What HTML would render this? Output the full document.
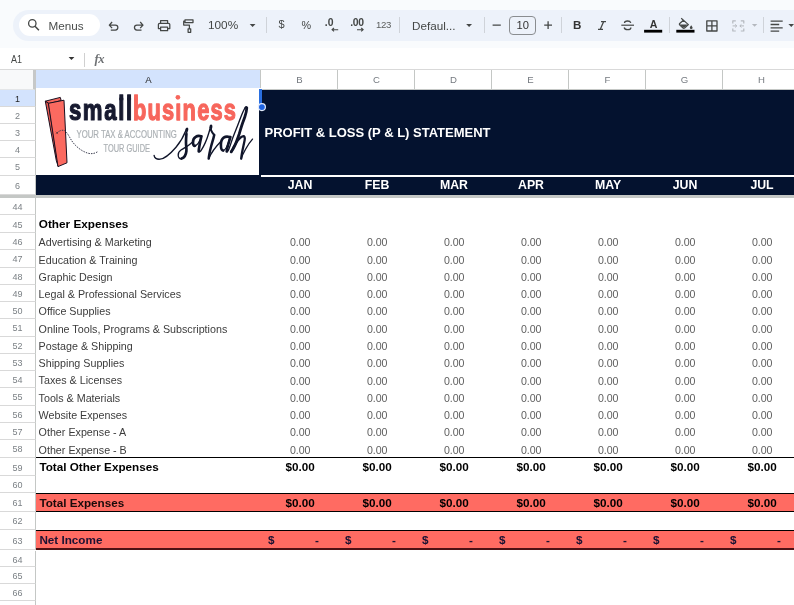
<!DOCTYPE html><html><head><meta charset="utf-8"><title>P&amp;L</title><style>

html,body{margin:0;padding:0}
body{width:794px;height:605px;overflow:hidden;background:#fff;position:relative;font-family:"Liberation Sans",sans-serif;}
.abs{position:absolute}
.t{position:absolute;white-space:nowrap;line-height:1}
.rh{position:absolute;left:0;width:36px;text-align:center;font-size:9px;color:#7b8085;background:#fff;border-right:1px solid #c4c7c5;border-bottom:1px solid #d9d9d9;box-sizing:border-box;padding-top:1px}
.ch{position:absolute;top:70px;height:20px;text-align:center;font-size:9.6px;color:#757a80;background:#fff;border-right:1px solid #c4c7c5;border-bottom:1px solid #c4c7c5;box-sizing:border-box;line-height:19.6px;padding-left:1px}
.lab{position:absolute;left:38.6px;white-space:nowrap;line-height:1;font-size:10.73px;color:#3c3c3c}
.num{position:absolute;white-space:nowrap;line-height:1;font-size:10.6px;color:#5f5f5f;text-align:center;margin-left:0.7px}
.b{font-weight:700;color:#000}
.sep{position:absolute;top:17.3px;height:16px;width:1px;background:#cfd3d9}

</style></head><body><div id="wrap" style="position:absolute;left:0;top:0;width:794px;height:605px;will-change:transform">
<div class="abs" style="left:0;top:0;width:794px;height:47.5px;background:#f9fbfd"></div>
<div class="abs" style="left:12.8px;top:9.8px;width:800px;height:31.3px;background:#edf2fa;border-radius:15.6px 0 0 15.6px"></div>
<div class="abs" style="left:19.2px;top:13.9px;width:81px;height:22.6px;background:#fff;border-radius:12px"></div>
<div class="t" style="left:48.4px;top:19.6px;font-size:11.7px;color:#4a4d4c">Menus</div>
<div class="t" style="left:208px;top:19.6px;font-size:11.8px;color:#444746">100%</div>
<div class="t" style="left:412px;top:19.6px;font-size:11.7px;color:#444746">Defaul...</div>
<div class="sep" style="left:266px"></div>
<div class="sep" style="left:399px"></div>
<div class="sep" style="left:484px"></div>
<div class="sep" style="left:561px"></div>
<div class="sep" style="left:669px"></div>
<div class="sep" style="left:763px"></div>
<div class="abs" style="left:509.2px;top:16.4px;width:26.6px;height:18.2px;border:1px solid #8a8d90;border-radius:4px;box-sizing:border-box"></div>
<div class="t" style="left:516.6px;top:20.3px;font-size:11.2px;color:#333">10</div>
<svg class="abs" style="left:0;top:0" width="794" height="42" viewBox="0 0 794 42" fill="none" stroke="#444746" stroke-width="1.25" stroke-linejoin="round">
<!-- search -->
<circle cx="32.3" cy="23.4" r="3.7" stroke-width="1.3"/><path d="M35,26.2 L38.9,30.2" stroke-width="1.5"/>
<!-- undo -->
<path d="M112.1,22 L109.3,25.1 L112.1,28.2 M109.6,25.1 H115.4 A2.45,2.45 0 0 1 115.4,30 H110.8"/>
<!-- redo -->
<path d="M140.2,22 L143,25.1 L140.2,28.2 M142.7,25.1 H136.9 A2.45,2.45 0 0 0 136.9,30 H141.5"/>
<!-- print -->
<path d="M160.6,23.3 V20.7 H167.6 V23.3 M160.6,28.6 H158.4 V24.6 Q158.4,23.3 159.7,23.3 H168.5 Q169.8,23.3 169.8,24.6 V28.6 H167.6 M160.6,27 H167.6 V30.7 H160.6 Z"/>
<!-- paint format -->
<path d="M185,19.8 H193 V22.6 H185 Z M185,21.2 H183.7 V25 H189.4 V28.6 M188.1,28.8 H190.7 V32.3 H188.1 Z"/>
<!-- dropdown triangles -->
<path d="M249.7,23.9 H255.5 L252.6,27 Z" fill="#444746" stroke="none"/>
<path d="M466.2,23.9 H472 L469.1,27 Z" fill="#444746" stroke="none"/>
<path d="M751.9,23.9 H757.3 L754.6,26.8 Z" fill="#b4b8be" stroke="none"/>
<path d="M788.4,23.9 H794.2 L791.3,27 Z" fill="#444746" stroke="none"/>
<!-- decimal arrows -->
<path d="M338.2,29.7 H332.2 M334,28 L332,29.7 L334,31.4" stroke-width="1.1"/>
<path d="M357,29.7 H363 M361.2,28 L363.2,29.7 L361.2,31.4" stroke-width="1.1"/>
<!-- minus / plus -->
<path d="M492.6,25.2 H500.8 M544.2,25.2 H552 M548.1,21.3 V29.1" stroke-width="1.3"/>
<!-- italic I -->
<path d="M601,21.6 H606 M598,29.3 H603 M603.7,21.6 L600.3,29.3" stroke-width="1.3"/>
<!-- strikethrough S -->
<path d="M621.3,25.2 H634" stroke-width="1.2"/>
<path d="M630.8,22.9 C630.4,21.6 629.2,21 627.6,21 C625.8,21 624.5,21.9 624.5,23.1 M624.2,27.5 C624.5,28.9 625.8,29.6 627.6,29.6 C629.5,29.6 630.9,28.8 630.9,27.4" stroke-width="1.3"/>
<!-- text color bar, fill color bar -->
<rect x="644.1" y="29.8" width="18.1" height="2.8" fill="#000" stroke="none"/>
<rect x="676.3" y="29.8" width="18.2" height="2.8" fill="#000" stroke="none"/>
<!-- fill bucket -->
<path d="M681.2,18.2 L688.4,24.6 L684.6,28 Q683.8,28.6 683,28 L679.6,24.9 Q679,24.2 679.7,23.5 L683.4,20.2" stroke-width="1.2"/>
<path d="M679.6,24.4 H688 L684.4,27.6 Q683.8,28.1 683.2,27.6 Z" fill="#444746" stroke="none"/>
<path d="M691.2,25.2 C692,26.3 692.6,27 692.6,27.7 A1.4,1.4 0 0 1 689.8,27.7 C689.8,27 690.4,26.3 691.2,25.2 Z" fill="#444746" stroke="none"/>
<!-- borders -->
<path d="M706.8,20.8 H717 V31 H706.8 Z M711.9,20.8 V31 M706.8,25.9 H717" stroke-width="1.3"/>
<!-- merge (disabled) -->
<g stroke="#b4b8be" stroke-width="1.2">
<path d="M732.8,23.4 V20.8 H735.8 M740.8,20.8 H743.8 V23.4 M743.8,28.4 V31 H740.8 M735.8,31 H732.8 V28.4"/>
<path d="M732.6,25.9 H736.6 M735.2,24.4 L736.8,25.9 L735.2,27.4 M744,25.9 H740 M741.4,24.4 L739.8,25.9 L741.4,27.4" stroke-width="1"/>
</g>
<!-- align -->
<path d="M770.6,21.2 H782.7 M770.6,24.5 H779.2 M770.6,27.8 H782.7 M770.6,31.1 H779.2" stroke-width="1.3"/>
</svg>
<div class="t" style="left:278.4px;top:19.2px;font-size:11px;color:#444746">$</div>
<div class="t" style="left:301.6px;top:19.6px;font-size:10.8px;color:#444746">%</div>
<div class="t b" style="left:324.8px;top:18.2px;font-size:10.4px;color:#444746">.0</div>
<div class="t b" style="left:350.2px;top:18.2px;font-size:10.4px;color:#444746;letter-spacing:-0.3px">.00</div>
<div class="t" style="left:376px;top:20.2px;font-size:9.6px;color:#5a5d5c;letter-spacing:-0.3px">123</div>
<div class="t b" style="left:573px;top:19.4px;font-size:11.6px;color:#333">B</div>
<div class="t b" style="left:649.7px;top:19.4px;font-size:10.6px;color:#333;font-weight:700">A</div>

<div class="abs" style="left:0;top:47.5px;width:794px;height:22.5px;background:#fff"></div>
<div class="t" style="left:10.6px;top:54.5px;font-size:10.2px;transform:scaleX(0.88);transform-origin:0 0;color:#444746">A1</div>
<svg class="abs" style="left:60px;top:50px" width="20" height="16" viewBox="60 50 20 16"><path d="M68.6,57 H74.4 L71.5,60.1 Z" fill="#333"/></svg>
<div class="abs" style="left:84px;top:52.5px;width:1px;height:14px;background:#d0d0d0"></div>
<div class="t" style="left:94.6px;top:53.2px;font-size:12.6px;color:#6f7275;font-weight:700;font-family:'Liberation Serif',serif;font-style:italic;letter-spacing:-0.5px">fx</div>
<div class="abs" style="left:0;top:69px;width:794px;height:1px;background:#d9d9d9"></div>
<div class="ch" style="left:0;width:36px;height:19.5px;border-right:3.5px solid #c6c8c8;border-bottom:1px solid #e4e6e8;background:#f8f9fa"></div>
<div class="ch" style="left:36px;width:225px;background:#d3e3fd;color:#1f1f1f;height:17.5px;border-bottom:none;">A</div>
<div class="ch" style="left:261px;width:77px;">B</div>
<div class="ch" style="left:338px;width:77px;">C</div>
<div class="ch" style="left:415px;width:77px;">D</div>
<div class="ch" style="left:492px;width:77px;">E</div>
<div class="ch" style="left:569px;width:77px;">F</div>
<div class="ch" style="left:646px;width:77px;">G</div>
<div class="ch" style="left:723px;width:77px;">H</div>
<div class="rh" style="top:90px;height:17.099999999999994px;line-height:17.099999999999994px;background:#d3e3fd;color:#1f1f1f;">1</div>
<div class="rh" style="top:107.1px;height:17.10000000000001px;line-height:17.10000000000001px;">2</div>
<div class="rh" style="top:124.2px;height:17.10000000000001px;line-height:17.10000000000001px;">3</div>
<div class="rh" style="top:141.3px;height:17.099999999999994px;line-height:17.099999999999994px;">4</div>
<div class="rh" style="top:158.4px;height:17.19999999999999px;line-height:17.19999999999999px;">5</div>
<div class="rh" style="top:175.6px;height:19.400000000000006px;line-height:19.400000000000006px;">6</div>
<div class="rh" style="top:197px;height:18px;line-height:18px;">44</div>
<div class="rh" style="top:215px;height:18px;line-height:18px;">45</div>
<div class="rh" style="top:233.0px;height:17.27000000000001px;line-height:17.27000000000001px;">46</div>
<div class="rh" style="top:250.27px;height:17.27000000000001px;line-height:17.27000000000001px;">47</div>
<div class="rh" style="top:267.54px;height:17.269999999999982px;line-height:17.269999999999982px;">48</div>
<div class="rh" style="top:284.81px;height:17.269999999999982px;line-height:17.269999999999982px;">49</div>
<div class="rh" style="top:302.08px;height:17.269999999999982px;line-height:17.269999999999982px;">50</div>
<div class="rh" style="top:319.34999999999997px;height:17.269999999999982px;line-height:17.269999999999982px;">51</div>
<div class="rh" style="top:336.61999999999995px;height:17.269999999999982px;line-height:17.269999999999982px;">52</div>
<div class="rh" style="top:353.88999999999993px;height:17.269999999999982px;line-height:17.269999999999982px;">53</div>
<div class="rh" style="top:371.1599999999999px;height:17.269999999999982px;line-height:17.269999999999982px;">54</div>
<div class="rh" style="top:388.4299999999999px;height:17.269999999999982px;line-height:17.269999999999982px;">55</div>
<div class="rh" style="top:405.6999999999999px;height:17.269999999999982px;line-height:17.269999999999982px;">56</div>
<div class="rh" style="top:422.96999999999986px;height:17.269999999999982px;line-height:17.269999999999982px;">57</div>
<div class="rh" style="top:440.23999999999984px;height:17.269999999999982px;line-height:17.269999999999982px;">58</div>
<div class="rh" style="top:457.5px;height:18.19999999999999px;line-height:18.19999999999999px;">59</div>
<div class="rh" style="top:475.7px;height:17.5px;line-height:17.5px;">60</div>
<div class="rh" style="top:493.2px;height:19.19999999999999px;line-height:19.19999999999999px;">61</div>
<div class="rh" style="top:512.4px;height:17.200000000000045px;line-height:17.200000000000045px;">62</div>
<div class="rh" style="top:529.6px;height:20.899999999999977px;line-height:20.899999999999977px;">63</div>
<div class="rh" style="top:550.5px;height:16.0px;line-height:16.0px;">64</div>
<div class="rh" style="top:566.5px;height:17.5px;line-height:17.5px;">65</div>
<div class="rh" style="top:584px;height:17px;line-height:17px;">66</div>
<div class="rh" style="top:601px;height:17px;line-height:17px;">67</div>
<div class="abs" style="left:0;top:194.5px;width:794px;height:3px;background:#c4c7c5"></div>
<div class="abs" style="left:36px;top:90px;width:760px;height:105px;background:#04122f"></div>
<div class="abs" style="left:261px;top:175px;width:540px;height:1.6px;background:#fff"></div>
<div class="abs" id="logo" style="left:36px;top:89px;width:223.4px;height:86.3px;background:#fff;overflow:hidden"><svg class="abs" style="left:0;top:1px" width="224" height="85" viewBox="36 90 224 85">
<!-- map icon -->
<polygon points="45.3,101.2 60.3,97.4 61.2,100.6 49,103.5" fill="#f7665c" stroke="#1a1020" stroke-width="1" stroke-linejoin="round"/>
<polygon points="45.3,101.2 48.6,103.4 58.2,166.4 56.3,160.6" fill="#e9584f" stroke="#1a1020" stroke-width="1" stroke-linejoin="round"/>
<polygon points="48.4,103.3 64,100.2 67,162.8 58,166.6" fill="#fb6a60" stroke="#1a1020" stroke-width="1" stroke-linejoin="round"/>
<path d="M55.7,131.7 l2.4,2.4 M58.1,131.7 l-2.4,2.4" stroke="#7a2f2c" stroke-width="0.7" fill="none"/>
<path d="M57.2,132.8 C59.4,130.6 62.4,129.6 64.4,130.6 C67.4,132.2 69.6,137.6 71.9,141 C75.6,146.4 81.6,151.2 87.6,153.1 C91.6,154.3 95.5,153.4 98.2,151.3" fill="none" stroke="#3f4254" stroke-width="1" stroke-dasharray="1.5 1.1"/>
<!-- sarah script -->
<g fill="none" stroke="#10152a" stroke-linecap="round" stroke-linejoin="round">
<path d="M154.1,155.4 C154.3,157.8 156.6,159.6 160,159.2 C166,158.5 171,153 176,147.2 C180,142.4 184,135.5 186,130.2" stroke-width="1.35"/>
<path d="M186,130.2 C186.3,128.3 187.6,127.8 187.5,129.4 C187.3,131 186.5,132 186.4,134" stroke-width="1.6"/>
<path d="M186.4,134 C186.1,137.5 186,140 186,142.8 C186,146 186.7,148.5 186.4,151 C186,155 184.4,157.6 181.6,158.6" stroke-width="2.65"/>
<path d="M181.6,158.6 C179.6,159.2 178.3,157.6 178.2,155.2 C178.1,152.6 179.4,151 181,150 C183.4,148.6 186.4,147 188.6,145.3 C190,144.2 191.4,143 192.5,142" stroke-width="1.35"/>
<path d="M201.1,136.2 C199.4,135.8 197.2,135.8 195.7,136.8 C193.8,138 192.9,140 193,142.6 C193.1,145 193.9,146 195,145.8" stroke-width="2.65"/>
<path d="M195,145.8 C197.4,145.4 199.8,141 201.2,136.8" stroke-width="1.2"/>
<path d="M201.4,136.4 C200.6,140 199,146.6 198.7,151.4" stroke-width="2.65"/>
<path d="M198.7,151.4 C199.2,152.6 200.4,151.6 201.6,149.6 C204.6,145 207.6,137 208.8,133 C209.6,130.5 210,128.6 210.2,127.6" stroke-width="1.35"/>
<path d="M210.2,127.6 C210.2,125.4 211.4,124.6 211.6,126.2 C211.8,127.8 211,128.6 210.9,129.8" stroke-width="1.6"/>
<path d="M210.9,129.8 C211.8,132 213.2,133.8 214.2,135" stroke-width="2"/>
<path d="M214.2,135 C213.4,139 212,143 211.2,146 C210,150.6 209,155 208.7,158.6" stroke-width="2.5"/>
<path d="M208.7,158.6 C211,153.5 216,146.4 220.4,142" stroke-width="1.35"/>
<path d="M229.6,137 C227.8,136.4 225.4,136.4 223.7,137.6 C221.7,139 220.9,141.4 220.9,144.6 C220.9,148.2 221.8,150.6 223.2,150.6" stroke-width="2.65"/>
<path d="M223.2,150.6 C225.8,150.2 228.4,143 229.8,137.4" stroke-width="1.2"/>
<path d="M230.4,137 C229.4,141 227.2,147 226.7,151.4" stroke-width="2.65"/>
<path d="M226.7,151.4 C227.4,152.4 228.2,151 229.2,148.2 C230.5,145 231.5,141.5 232.1,139.7 C234,134.5 236.3,129 238.7,122.7 C240.3,118.6 241.6,115 242.7,112.5 C243.8,110 244.6,108.6 245.1,107.9" stroke-width="1.35"/>
<path d="M245.1,107.9 C245.6,106.4 246.8,106.4 246.8,107.8" stroke-width="1.6"/>
<path d="M246.8,107.8 C246.7,110.5 245.8,114 244.8,117 C244.1,119 243.4,121 242.7,122.7 C241.3,126.5 240.3,130.5 239.2,134 C238,137.5 236.5,141.8 235,145.3 C233.7,148.4 232.2,150.5 231.2,151.8" stroke-width="2.8"/>
<path d="M231.4,151.6 C233.6,146.5 238.5,138 242.3,136.5 C244.6,135.6 245.2,137.2 244.6,140.4 C243.6,145.6 241.6,153 241.2,158.7" stroke-width="2.3"/>
<path d="M241.2,158.7 C242.6,154 248,144 252.5,139.1" stroke-width="1.35"/>
</g>
<g font-family="Liberation Sans" font-weight="700" font-size="30" stroke-linejoin="round">
<text transform="translate(68.9,120.4) scale(0.74,1)" fill="#171a30" stroke="#171a30" stroke-width="1.25" letter-spacing="2.2">small</text>
<text transform="translate(132.9,120.4) scale(0.728,1)" fill="#f7665c" stroke="#f7665c" stroke-width="1.25" letter-spacing="1.66">busıness</text>
</g>
<rect x="119.28" y="94.2" width="4.02" height="6" rx="0.5" fill="#171a30"/><rect x="127.06" y="94.2" width="3.99" height="6" rx="0.5" fill="#171a30"/><rect x="134.04" y="94.2" width="3.93" height="6" rx="0.5" fill="#f7665c"/><circle cx="177.9" cy="97.3" r="2.35" fill="#f7665c"/>
<g font-family="Liberation Sans" font-size="11" fill="#abb0b4" stroke="#abb0b4" stroke-width="0.2">
<text transform="translate(76.5,138.2) scale(0.707,1)">YOUR TAX &amp; ACCOUNTING</text>
<text transform="translate(103.6,151.7) scale(0.674,1)">TOUR GUIDE</text>
</g>
</svg>

</div>
<div class="t b" style="left:264.5px;top:126px;font-size:13px;color:#fff">PROFIT &amp; LOSS (P &amp; L) STATEMENT</div>
<div class="t b" style="left:261px;width:77px;text-align:center;top:179.1px;font-size:12.3px;color:#fff;margin-left:0.5px">JAN</div>
<div class="t b" style="left:338px;width:77px;text-align:center;top:179.1px;font-size:12.3px;color:#fff;margin-left:0.5px">FEB</div>
<div class="t b" style="left:415px;width:77px;text-align:center;top:179.1px;font-size:12.3px;color:#fff;margin-left:0.5px">MAR</div>
<div class="t b" style="left:492px;width:77px;text-align:center;top:179.1px;font-size:12.3px;color:#fff;margin-left:0.5px">APR</div>
<div class="t b" style="left:569px;width:77px;text-align:center;top:179.1px;font-size:12.3px;color:#fff;margin-left:0.5px">MAY</div>
<div class="t b" style="left:646px;width:77px;text-align:center;top:179.1px;font-size:12.3px;color:#fff;margin-left:0.5px">JUN</div>
<div class="t b" style="left:723px;width:77px;text-align:center;top:179.1px;font-size:12.3px;color:#fff;margin-left:0.5px">JUL</div>
<div class="abs" style="left:259.3px;top:88.7px;width:2.6px;height:16px;background:#2a6fe0"></div>
<svg class="abs" style="left:254px;top:100px" width="16" height="16" viewBox="254 100 16 16"><circle cx="261.9" cy="107.1" r="4.1" fill="#e3ebfb"/><circle cx="261.9" cy="107.1" r="2.9" fill="#1f63e0"/></svg>
<div class="lab b" style="left:38.8px;top:218.3px;font-size:11.75px">Other Expenses</div>
<div class="lab" style="top:237.30px">Advertising &amp; Marketing</div>
<div class="num" style="left:261px;width:77px;top:237.40px">0.00</div>
<div class="num" style="left:338px;width:77px;top:237.40px">0.00</div>
<div class="num" style="left:415px;width:77px;top:237.40px">0.00</div>
<div class="num" style="left:492px;width:77px;top:237.40px">0.00</div>
<div class="num" style="left:569px;width:77px;top:237.40px">0.00</div>
<div class="num" style="left:646px;width:77px;top:237.40px">0.00</div>
<div class="num" style="left:723px;width:77px;top:237.40px">0.00</div>
<div class="lab" style="top:254.57px">Education &amp; Training</div>
<div class="num" style="left:261px;width:77px;top:254.67px">0.00</div>
<div class="num" style="left:338px;width:77px;top:254.67px">0.00</div>
<div class="num" style="left:415px;width:77px;top:254.67px">0.00</div>
<div class="num" style="left:492px;width:77px;top:254.67px">0.00</div>
<div class="num" style="left:569px;width:77px;top:254.67px">0.00</div>
<div class="num" style="left:646px;width:77px;top:254.67px">0.00</div>
<div class="num" style="left:723px;width:77px;top:254.67px">0.00</div>
<div class="lab" style="top:271.84px">Graphic Design</div>
<div class="num" style="left:261px;width:77px;top:271.94px">0.00</div>
<div class="num" style="left:338px;width:77px;top:271.94px">0.00</div>
<div class="num" style="left:415px;width:77px;top:271.94px">0.00</div>
<div class="num" style="left:492px;width:77px;top:271.94px">0.00</div>
<div class="num" style="left:569px;width:77px;top:271.94px">0.00</div>
<div class="num" style="left:646px;width:77px;top:271.94px">0.00</div>
<div class="num" style="left:723px;width:77px;top:271.94px">0.00</div>
<div class="lab" style="top:289.11px">Legal &amp; Professional Services</div>
<div class="num" style="left:261px;width:77px;top:289.21px">0.00</div>
<div class="num" style="left:338px;width:77px;top:289.21px">0.00</div>
<div class="num" style="left:415px;width:77px;top:289.21px">0.00</div>
<div class="num" style="left:492px;width:77px;top:289.21px">0.00</div>
<div class="num" style="left:569px;width:77px;top:289.21px">0.00</div>
<div class="num" style="left:646px;width:77px;top:289.21px">0.00</div>
<div class="num" style="left:723px;width:77px;top:289.21px">0.00</div>
<div class="lab" style="top:306.38px">Office Supplies</div>
<div class="num" style="left:261px;width:77px;top:306.48px">0.00</div>
<div class="num" style="left:338px;width:77px;top:306.48px">0.00</div>
<div class="num" style="left:415px;width:77px;top:306.48px">0.00</div>
<div class="num" style="left:492px;width:77px;top:306.48px">0.00</div>
<div class="num" style="left:569px;width:77px;top:306.48px">0.00</div>
<div class="num" style="left:646px;width:77px;top:306.48px">0.00</div>
<div class="num" style="left:723px;width:77px;top:306.48px">0.00</div>
<div class="lab" style="top:323.65px">Online Tools, Programs &amp; Subscriptions</div>
<div class="num" style="left:261px;width:77px;top:323.75px">0.00</div>
<div class="num" style="left:338px;width:77px;top:323.75px">0.00</div>
<div class="num" style="left:415px;width:77px;top:323.75px">0.00</div>
<div class="num" style="left:492px;width:77px;top:323.75px">0.00</div>
<div class="num" style="left:569px;width:77px;top:323.75px">0.00</div>
<div class="num" style="left:646px;width:77px;top:323.75px">0.00</div>
<div class="num" style="left:723px;width:77px;top:323.75px">0.00</div>
<div class="lab" style="top:340.92px">Postage &amp; Shipping</div>
<div class="num" style="left:261px;width:77px;top:341.02px">0.00</div>
<div class="num" style="left:338px;width:77px;top:341.02px">0.00</div>
<div class="num" style="left:415px;width:77px;top:341.02px">0.00</div>
<div class="num" style="left:492px;width:77px;top:341.02px">0.00</div>
<div class="num" style="left:569px;width:77px;top:341.02px">0.00</div>
<div class="num" style="left:646px;width:77px;top:341.02px">0.00</div>
<div class="num" style="left:723px;width:77px;top:341.02px">0.00</div>
<div class="lab" style="top:358.19px">Shipping Supplies</div>
<div class="num" style="left:261px;width:77px;top:358.29px">0.00</div>
<div class="num" style="left:338px;width:77px;top:358.29px">0.00</div>
<div class="num" style="left:415px;width:77px;top:358.29px">0.00</div>
<div class="num" style="left:492px;width:77px;top:358.29px">0.00</div>
<div class="num" style="left:569px;width:77px;top:358.29px">0.00</div>
<div class="num" style="left:646px;width:77px;top:358.29px">0.00</div>
<div class="num" style="left:723px;width:77px;top:358.29px">0.00</div>
<div class="lab" style="top:375.46px">Taxes &amp; Licenses</div>
<div class="num" style="left:261px;width:77px;top:375.56px">0.00</div>
<div class="num" style="left:338px;width:77px;top:375.56px">0.00</div>
<div class="num" style="left:415px;width:77px;top:375.56px">0.00</div>
<div class="num" style="left:492px;width:77px;top:375.56px">0.00</div>
<div class="num" style="left:569px;width:77px;top:375.56px">0.00</div>
<div class="num" style="left:646px;width:77px;top:375.56px">0.00</div>
<div class="num" style="left:723px;width:77px;top:375.56px">0.00</div>
<div class="lab" style="top:392.73px">Tools &amp; Materials</div>
<div class="num" style="left:261px;width:77px;top:392.83px">0.00</div>
<div class="num" style="left:338px;width:77px;top:392.83px">0.00</div>
<div class="num" style="left:415px;width:77px;top:392.83px">0.00</div>
<div class="num" style="left:492px;width:77px;top:392.83px">0.00</div>
<div class="num" style="left:569px;width:77px;top:392.83px">0.00</div>
<div class="num" style="left:646px;width:77px;top:392.83px">0.00</div>
<div class="num" style="left:723px;width:77px;top:392.83px">0.00</div>
<div class="lab" style="top:410.00px">Website Expenses</div>
<div class="num" style="left:261px;width:77px;top:410.10px">0.00</div>
<div class="num" style="left:338px;width:77px;top:410.10px">0.00</div>
<div class="num" style="left:415px;width:77px;top:410.10px">0.00</div>
<div class="num" style="left:492px;width:77px;top:410.10px">0.00</div>
<div class="num" style="left:569px;width:77px;top:410.10px">0.00</div>
<div class="num" style="left:646px;width:77px;top:410.10px">0.00</div>
<div class="num" style="left:723px;width:77px;top:410.10px">0.00</div>
<div class="lab" style="top:427.27px">Other Expense - A</div>
<div class="num" style="left:261px;width:77px;top:427.37px">0.00</div>
<div class="num" style="left:338px;width:77px;top:427.37px">0.00</div>
<div class="num" style="left:415px;width:77px;top:427.37px">0.00</div>
<div class="num" style="left:492px;width:77px;top:427.37px">0.00</div>
<div class="num" style="left:569px;width:77px;top:427.37px">0.00</div>
<div class="num" style="left:646px;width:77px;top:427.37px">0.00</div>
<div class="num" style="left:723px;width:77px;top:427.37px">0.00</div>
<div class="lab" style="top:444.54px">Other Expense - B</div>
<div class="num" style="left:261px;width:77px;top:444.64px">0.00</div>
<div class="num" style="left:338px;width:77px;top:444.64px">0.00</div>
<div class="num" style="left:415px;width:77px;top:444.64px">0.00</div>
<div class="num" style="left:492px;width:77px;top:444.64px">0.00</div>
<div class="num" style="left:569px;width:77px;top:444.64px">0.00</div>
<div class="num" style="left:646px;width:77px;top:444.64px">0.00</div>
<div class="num" style="left:723px;width:77px;top:444.64px">0.00</div>
<div class="abs" style="left:36px;top:457.0px;width:760px;height:1.3px;background:#000"></div>
<div class="lab b" style="left:39.4px;top:461.1px;font-size:11.7px">Total Other Expenses</div>
<div class="num b" style="left:261px;width:77px;top:461.1px;font-size:11.7px">$0.00</div>
<div class="num b" style="left:338px;width:77px;top:461.1px;font-size:11.7px">$0.00</div>
<div class="num b" style="left:415px;width:77px;top:461.1px;font-size:11.7px">$0.00</div>
<div class="num b" style="left:492px;width:77px;top:461.1px;font-size:11.7px">$0.00</div>
<div class="num b" style="left:569px;width:77px;top:461.1px;font-size:11.7px">$0.00</div>
<div class="num b" style="left:646px;width:77px;top:461.1px;font-size:11.7px">$0.00</div>
<div class="num b" style="left:723px;width:77px;top:461.1px;font-size:11.7px">$0.00</div>
<div class="abs" style="left:36px;top:493.2px;width:760px;height:19.19999999999999px;background:#ff6b62;border-top:1.3px solid #000;border-bottom:1.3px solid #000;box-sizing:border-box"></div>
<div class="lab b" style="left:39.4px;top:496.9px;font-size:11.7px;color:#1a0a0a">Total Expenses</div>
<div class="num b" style="left:261px;width:77px;top:496.9px;font-size:11.7px">$0.00</div>
<div class="num b" style="left:338px;width:77px;top:496.9px;font-size:11.7px">$0.00</div>
<div class="num b" style="left:415px;width:77px;top:496.9px;font-size:11.7px">$0.00</div>
<div class="num b" style="left:492px;width:77px;top:496.9px;font-size:11.7px">$0.00</div>
<div class="num b" style="left:569px;width:77px;top:496.9px;font-size:11.7px">$0.00</div>
<div class="num b" style="left:646px;width:77px;top:496.9px;font-size:11.7px">$0.00</div>
<div class="num b" style="left:723px;width:77px;top:496.9px;font-size:11.7px">$0.00</div>
<div class="abs" style="left:36px;top:529.6px;width:760px;height:20.899999999999977px;background:#ff6b62;border-top:1.3px solid #000;border-bottom:2.4px solid #4d1114;box-sizing:border-box"></div>
<div class="lab b" style="left:39.4px;top:533.8000000000001px;font-size:11.7px;color:#1c1233">Net Income</div>
<div class="t b" style="left:268px;top:533.8000000000001px;font-size:11.7px;color:#1c1233">$</div>
<div class="t b" style="left:315px;top:533.8000000000001px;font-size:11.7px;color:#1c1233">-</div>
<div class="t b" style="left:345px;top:533.8000000000001px;font-size:11.7px;color:#1c1233">$</div>
<div class="t b" style="left:392px;top:533.8000000000001px;font-size:11.7px;color:#1c1233">-</div>
<div class="t b" style="left:422px;top:533.8000000000001px;font-size:11.7px;color:#1c1233">$</div>
<div class="t b" style="left:469px;top:533.8000000000001px;font-size:11.7px;color:#1c1233">-</div>
<div class="t b" style="left:499px;top:533.8000000000001px;font-size:11.7px;color:#1c1233">$</div>
<div class="t b" style="left:546px;top:533.8000000000001px;font-size:11.7px;color:#1c1233">-</div>
<div class="t b" style="left:576px;top:533.8000000000001px;font-size:11.7px;color:#1c1233">$</div>
<div class="t b" style="left:623px;top:533.8000000000001px;font-size:11.7px;color:#1c1233">-</div>
<div class="t b" style="left:653px;top:533.8000000000001px;font-size:11.7px;color:#1c1233">$</div>
<div class="t b" style="left:700px;top:533.8000000000001px;font-size:11.7px;color:#1c1233">-</div>
<div class="t b" style="left:730px;top:533.8000000000001px;font-size:11.7px;color:#1c1233">$</div>
<div class="t b" style="left:777px;top:533.8000000000001px;font-size:11.7px;color:#1c1233">-</div>
</div></body></html>
